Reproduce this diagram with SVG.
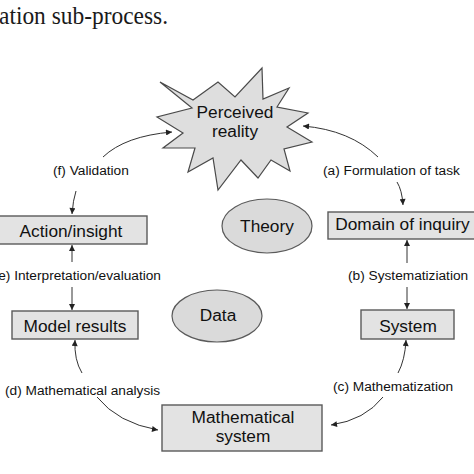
<svg xmlns="http://www.w3.org/2000/svg" width="474" height="474" viewBox="0 0 474 474">
<defs>
<marker id="ah" viewBox="0 0 10 10" refX="10" refY="5" markerWidth="7" markerHeight="6" markerUnits="userSpaceOnUse" orient="auto">
<path d="M0,0 L10,5 L0,10 z" fill="#222"/>
</marker>
<style>
.box{fill:#e3e3e3;stroke:#5a5a5a;stroke-width:1.4}
.ell{fill:#dadada;stroke:#5a5a5a;stroke-width:1.2}
.star{fill:#dedede;stroke:#4a4a4a;stroke-width:1.2}
.t{font-family:"Liberation Sans",Arial,sans-serif;font-size:17.3px;fill:#111;text-anchor:middle}
.lbl{font-family:"Liberation Sans",Arial,sans-serif;font-size:13.7px;fill:#111}
.c{fill:none;stroke:#333;stroke-width:1;marker-end:url(#ah)}
</style>
</defs>
<rect width="474" height="474" fill="#fff"/>
<text x="-1" y="24" font-family="Liberation Serif,Times New Roman,serif" font-size="26" fill="#1a1a1a" textLength="169" lengthAdjust="spacingAndGlyphs">ation sub-process.</text>

<g id="perceived-reality">
<polygon class="star" points="160,82 193,100 218,82 235,97 262,68 263,99 289,88 277,107 308,113 287,127 312,142 284,149 290,171 271,160 258,178 241,160 218,190 213,158 188,172 195,148 163,148 183,133 157,117 192,108"/>
<text class="t" x="235" y="118">Perceived</text>
<text class="t" x="235" y="137">reality</text>
</g>
<g id="action-insight">
<rect class="box" x="-1" y="216" width="148" height="28"/>
<text class="t" x="71" y="237">Action/insight</text>
</g>
<g id="domain-of-inquiry">
<rect class="box" x="328" y="212" width="150" height="27"/>
<text class="t" x="402.5" y="230">Domain of inquiry</text>
</g>
<g id="theory">
<ellipse class="ell" cx="267" cy="226" rx="45" ry="27"/>
<text class="t" x="267" y="232">Theory</text>
</g>
<g id="data">
<ellipse class="ell" cx="217" cy="316" rx="45" ry="26"/>
<text class="t" x="218" y="321">Data</text>
</g>
<g id="model-results">
<rect class="box" x="12" y="311" width="126" height="28"/>
<text class="t" x="75" y="332">Model results</text>
</g>
<g id="system">
<rect class="box" x="361" y="310" width="93" height="29"/>
<text class="t" x="408" y="332">System</text>
</g>
<g id="mathematical-system">
<rect class="box" x="162" y="405" width="160" height="46"/>
<text class="t" x="243" y="423">Mathematical</text>
<text class="t" x="243" y="442">system</text>
</g>

<g id="connectors">
<path class="c" d="M103,157 Q125,136 172,132"/>
<path class="c" d="M76,191 Q73,200 72,214"/>
<path class="c" d="M378,157 Q350,130 303,126"/>
<path class="c" d="M397,182 Q402,190 403,205"/>
<path class="c" d="M72,262 L72,245"/>
<path class="c" d="M72,287 L72,310"/>
<path class="c" d="M407,263 L407,240"/>
<path class="c" d="M407,287 L407,309"/>
<path class="c" d="M82,373 Q74,360 75,340"/>
<path class="c" d="M97,397 Q118,423 158,430"/>
<path class="c" d="M398,373 Q405,360 406,340"/>
<path class="c" d="M383,397 Q365,420 331,425"/>
</g>
<g id="labels">
<text class="lbl" x="53" y="175">(f) Validation</text>
<text class="lbl" x="323" y="175">(a) Formulation of task</text>
<text class="lbl" x="161" y="280" text-anchor="end">(e) Interpretation/evaluation</text>
<text class="lbl" x="348" y="280">(b) Systematiziation</text>
<text class="lbl" x="5" y="395">(d) Mathematical analysis</text>
<text class="lbl" x="333" y="391">(c) Mathematization</text>
</g>
</svg>
